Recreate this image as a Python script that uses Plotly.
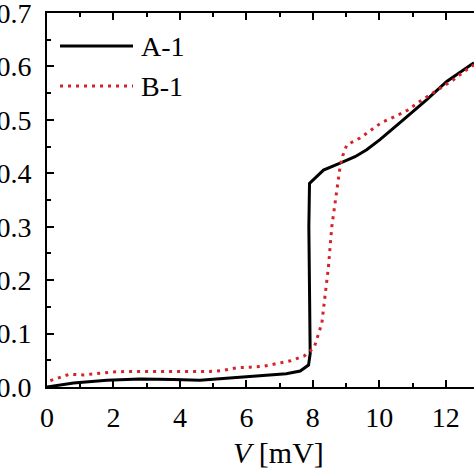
import plotly.graph_objects as go

# A-1 (solid black)
a_x = [0, 0.8, 1.8, 2.8, 3.8, 4.6, 5.3, 6.3, 7.2, 7.62, 7.87, 7.92, 7.9, 7.88, 7.9,
       8.32, 8.82, 9.27, 9.62, 10.02, 10.72, 11.43, 12.03, 12.85]
a_y = [0, 0.0075, 0.0125, 0.015, 0.014, 0.0125, 0.016, 0.02, 0.025, 0.03, 0.041, 0.0625, 0.20, 0.30, 0.381,
       0.406, 0.419, 0.431, 0.444, 0.463, 0.50, 0.538, 0.572, 0.607]

# B-1 (dotted red)
b_x = [0.1, 0.68, 1.1, 1.52, 1.94, 2.36, 2.78, 3.2, 3.62, 4.04, 4.46, 4.88, 5.29, 5.71, 6.11,
       6.53, 6.93, 7.33, 7.74, 8.04, 8.27, 8.37, 8.47, 8.57, 8.70, 8.82, 8.9, 9.02, 9.42, 9.72,
       10.07, 10.47, 10.85, 11.18, 11.53, 11.88, 12.23, 12.56, 12.85]
b_y = [0.012, 0.024, 0.0225, 0.0256, 0.028, 0.029, 0.029, 0.03, 0.03, 0.029, 0.029, 0.029, 0.031, 0.036, 0.037,
       0.039, 0.044, 0.049, 0.058, 0.074, 0.119, 0.172, 0.225, 0.30, 0.356, 0.412, 0.433, 0.453, 0.466, 0.479,
       0.495, 0.506, 0.518, 0.533, 0.547, 0.561, 0.575, 0.591, 0.603]

x_ticks = [0, 2, 4, 6, 8, 10, 12]
y_ticks = [0.0, 0.1, 0.2, 0.3, 0.4, 0.5, 0.6, 0.7]
y_ticklabels = ["0.0", "0.1", "0.2", "0.3", "0.4", "0.5", "0.6", "0.7"]
legend_names = ["A-1", "B-1"]

FONT = "Liberation Serif"
W, H = 474, 474
L, R, T, B = 47, 0, 13, 87
RED = "#d4232b"

def px_x(p):
    return (p - L) / (W - L - R)

def px_y(p):
    return (H - B - p) / (H - T - B)

fig = go.Figure()
fig.add_trace(go.Scatter(x=a_x, y=a_y, mode="lines", name=legend_names[0],
                         line=dict(color="black", width=3), showlegend=False))
fig.add_trace(go.Scatter(x=b_x, y=b_y, mode="lines", name=legend_names[1],
                         line=dict(color=RED, width=3, dash="3px,5px"), showlegend=False))

# manual legend
fig.add_shape(type="line", xref="paper", yref="paper", x0=px_x(60), x1=px_x(133),
              y0=px_y(46), y1=px_y(46), line=dict(color="black", width=3))
fig.add_shape(type="line", xref="paper", yref="paper", x0=px_x(60), x1=px_x(133),
              y0=px_y(86), y1=px_y(86), line=dict(color=RED, width=3, dash="3px,5px"))
for name, py in zip(legend_names, [46, 86]):
    fig.add_annotation(text=name, xref="paper", yref="paper", x=px_x(139), y=px_y(py),
                       xanchor="left", yanchor="middle", showarrow=False,
                       font=dict(family=FONT, size=28, color="black"))

fig.add_annotation(text="<i>V</i> [mV]", xref="paper", yref="paper", x=px_x(278), y=px_y(452),
                   xanchor="center", yanchor="middle", showarrow=False,
                   font=dict(family=FONT, size=30, color="black"))

fig.update_xaxes(range=[0, 12.85], tickvals=x_ticks, ticks="inside", ticklen=7, tickwidth=2,
                 tickcolor="black", showline=True, linecolor="black", linewidth=2, mirror="ticks",
                 showgrid=False, zeroline=False, ticklabelstandoff=4, ticklabeloverflow="allow",
                 automargin=False,
                 minor=dict(dtick=1, tick0=0, ticks="inside", ticklen=4, tickwidth=2, tickcolor="black"),
                 tickfont=dict(family=FONT, size=28, color="black"))
fig.update_yaxes(range=[0, 0.7], tickvals=y_ticks, ticktext=y_ticklabels, ticks="inside", ticklen=7,
                 tickwidth=2, tickcolor="black", showline=True, linecolor="black", linewidth=2,
                 mirror=False, showgrid=False, zeroline=False, ticklabelstandoff=8,
                 ticklabeloverflow="allow", automargin=False,
                 minor=dict(dtick=0.05, tick0=0, ticks="inside", ticklen=4, tickwidth=2, tickcolor="black"),
                 tickfont=dict(family=FONT, size=28, color="black"))

fig.update_layout(width=W, height=H, margin=dict(l=L, r=R, t=T, b=B),
                  paper_bgcolor="white", plot_bgcolor="white", showlegend=False)
fig.write_html("out.html")
